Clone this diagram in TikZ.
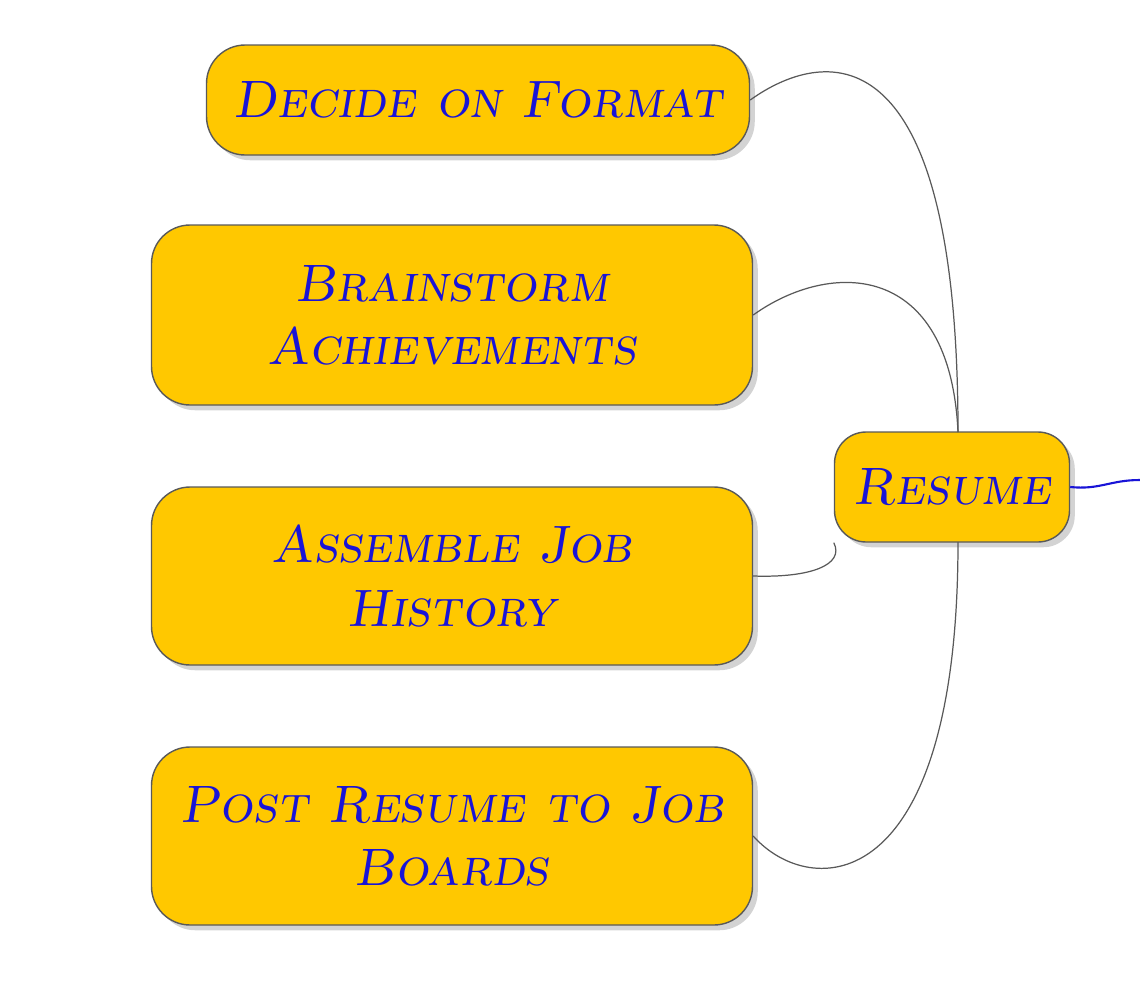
\documentclass[tikz,border=0pt]{standalone}
\usetikzlibrary{shadows}
\definecolor{boxfill}{RGB}{255,200,0}
\definecolor{txt}{RGB}{25,20,215}
\begin{document}
\begin{tikzpicture}[x=0.02cm,y=-0.02cm,
  topic/.style={draw=black!65,fill=boxfill,rounded corners=22pt,line width=0.8pt,
    drop shadow={shadow xshift=3pt,shadow yshift=-3pt,opacity=0.35},
    text=txt,align=center,font=\fontsize{30}{36}\selectfont\scshape\slshape,inner sep=0pt},
  link/.style={draw=black!65,line width=0.7pt}]
\useasboundingbox (0,0) rectangle (1140,998);
\node[topic,minimum width=543*0.02cm,minimum height=110*0.02cm] (a) at (478,100) {Decide on Format};
\node[topic,minimum width=601*0.02cm,minimum height=180*0.02cm] (b) at (452,315) {Brainstorm\\Achievements};
\node[topic,minimum width=601*0.02cm,minimum height=178*0.02cm] (c) at (452,576) {Assemble Job\\History};
\node[topic,minimum width=601*0.02cm,minimum height=178*0.02cm] (d) at (452,836) {Post Resume to Job\\Boards};
\node[topic,minimum width=235*0.02cm,minimum height=110*0.02cm,rounded corners=18pt] (r) at (952,487) {Resume};
\coordinate (rt) at (958,432);
\coordinate (rb) at (958,542);
\coordinate (out) at (1140,480);
\draw[link] (a.east) .. controls (820,50) and (958,20) .. (rt);
\draw[link] (b.east) .. controls (830,260) and (950,260) .. (rt);
\draw[link] (c.east) .. controls (810,578) and (845,565) .. (r.south west);
\draw[link] (d.east) .. controls (810,900) and (958,900) .. (rb);
\draw[draw=txt,line width=1.2pt] (r.east) .. controls (1100,490) and (1110,480) .. (out);
\end{tikzpicture}
\end{document}
